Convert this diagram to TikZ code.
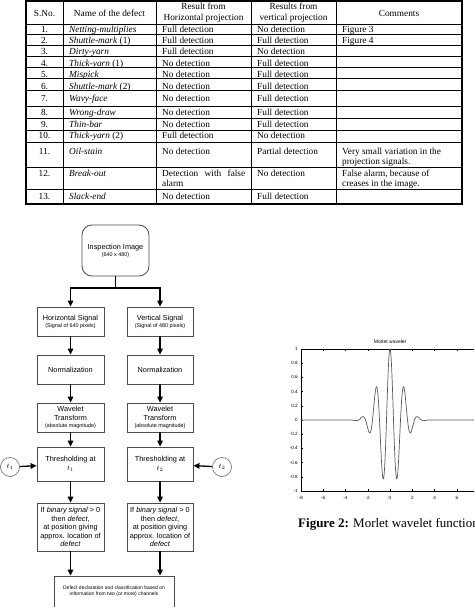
\documentclass[tikz,border=0pt]{standalone}
\usepackage{fontspec}
\setmainfont{Liberation Serif}
\newfontfamily\arialf{Liberation Sans}
\usetikzlibrary{arrows.meta}
\newcommand\smalltxt{\fontsize{5.4}{6.5}\selectfont}
\begin{document}
\begin{tikzpicture}[x=1pt,y=-1pt,
  tcell/.style={anchor=base west,inner sep=0pt,font=\fontsize{9.3}{10}\selectfont},
  tnum/.style={anchor=base,inner sep=0pt,font=\fontsize{9.3}{10}\selectfont},
  thead/.style={align=center,inner sep=0pt,font=\fontsize{9.3}{11}\selectfont},
  tline/.style={line width=0.7pt},
  touter/.style={line width=1.1pt},
  fbox/.style={draw=black!70,line width=0.8pt,fill=white,inner sep=0pt,align=center,font=\arialf\fontsize{7.3}{8.6}\selectfont},
  arr/.style={-{Triangle[length=6pt,width=5.5pt]},line width=1.3pt},
  link/.style={line width=1.3pt},
  tcirc/.style={circle,draw=black!60,line width=0.6pt,minimum size=19pt,inner sep=0pt,font=\fontsize{7.5}{8}\selectfont},
  ticklbl/.style={inner sep=0pt,font=\arialf\fontsize{4.6}{5}\selectfont}]
\useasboundingbox (0,0) rectangle (474,607);
\clip (0,0) rectangle (474,607);
\fill[white] (0,0) rectangle (474,607);

% ---------------- table ----------------
\foreach \yy in {24,34,45,56,67.3,78.7,90,118,130,142,167,189}
  \draw[tline] (26,\yy) -- (462,\yy);
\draw[line width=1.8pt] (26,106.5) -- (462,106.5);
\foreach \xx in {63,156,251,336}
  \draw[tline] (\xx,1) -- (\xx,204);
\draw[touter] (26,1) rectangle (462,204);

\node[thead] (hS) at (44.5,13) {S.No.};
\node[thead] (hN) at (109.5,13) {Name of the defect};
\node[thead] (hH) at (203.5,12.5) {Result from\\Horizontal projection};
\node[thead] (hV) at (293.5,12.5) {Results from\\vertical projection};
\node[thead] (hC) at (399,13) {Comments};

\foreach \i/\yb/\nm/\hr/\vr/\cm in {
  1/32.3/{\textit{Netting-multiplies}}/{Full detection}/{No detection}/{Figure 3},
  2/43.7/{\textit{Shuttle-mark} (1)}/{Full detection}/{Full detection}/{Figure 4},
  3/55/{\textit{Dirty-yarn}}/{Full detection}/{No detection}/{},
  4/66.3/{\textit{Thick-yarn} (1)}/{No detection}/{Full detection}/{},
  5/77.7/{\textit{Mispick}}/{No detection}/{Full detection}/{},
  6/89.5/{\textit{Shuttle-mark} (2)}/{No detection}/{Full detection}/{},
  7/101.2/{\textit{Wavy-face}}/{No detection}/{Full detection}/{},
  8/116/{\textit{Wrong-draw}}/{No detection}/{Full detection}/{},
  9/127.3/{\textit{Thin-bar}}/{No detection}/{Full detection}/{},
  10/139/{\textit{Thick-yarn} (2)}/{Full detection}/{No detection}/{},
  11/154/{\textit{Oil-stain}}/{No detection}/{Partial detection}/{\parbox[t]{118pt}{\raggedright Very small variation in the\\projection signals.}},
  12/176/{\textit{Break-out}}/{\parbox[t]{83pt}{Detection with false alarm}}/{No detection}/{\parbox[t]{118pt}{\raggedright False alarm, because of\\creases in the image.}},
  13/199/{\textit{Slack-end}}/{No detection}/{Full detection}/{}}
{
  \node[tnum] (no\i) at (44.5,\yb) {\i.};
  \node[tcell] (nm\i) at (69,\yb) {\nm};
  \node[tcell] (hr\i) at (162,\yb) {\hr};
  \node[tcell] (vr\i) at (257,\yb) {\vr};
  \node[tcell] (cm\i) at (342,\yb) {\cm};
}

% ---------------- flowchart ----------------
\node[fbox,rounded corners=10pt,minimum width=67pt,minimum height=51pt] (img) at (115.5,250.5)
  {Inspection Image\\[-1.5pt]{\smalltxt (640 x 480)}};
\node[fbox,minimum width=67pt,minimum height=29pt] (hs) at (70.5,321.5)
  {Horizontal Signal\\[-1.5pt]{\smalltxt (Signal of 640 pixels)}};
\node[fbox,minimum width=66pt,minimum height=29pt] (vs) at (160,321.5)
  {Vertical Signal\\[-1.5pt]{\smalltxt (Signal of 480 pixels)}};
\node[fbox,minimum width=67pt,minimum height=29pt] (n1) at (70.5,369.5) {Normalization};
\node[fbox,minimum width=66pt,minimum height=29pt] (n2) at (160,369.5) {Normalization};
\node[fbox,minimum width=67pt,minimum height=29pt] (w1) at (70.5,417.5)
  {Wavelet\\Transform\\[-1.5pt]{\smalltxt (absolute magnitude)}};
\node[fbox,minimum width=66pt,minimum height=29pt] (w2) at (160,417.5)
  {Wavelet\\Transform\\[-1.5pt]{\smalltxt (absolute magnitude)}};
\node[fbox,minimum width=67pt,minimum height=34pt] (th1) at (70.5,464)
  {Thresholding at\\$t_1$};
\node[fbox,minimum width=66pt,minimum height=34pt] (th2) at (160,464)
  {Thresholding at\\$t_2$};
\node[fbox,minimum width=67pt,minimum height=48pt] (d1) at (70.5,527)
  {If \textit{binary signal} > 0\\then \textit{defect},\\at position giving\\approx. location of\\\textit{defect}};
\node[fbox,minimum width=66pt,minimum height=48pt] (d2) at (160,527)
  {If \textit{binary signal} > 0\\then \textit{defect},\\at position giving\\approx. location of\\\textit{defect}};
\node[fbox,minimum width=120pt,minimum height=46pt] (fin) at (114,599) {};
\node[inner sep=0pt,align=center,font=\arialf\fontsize{5}{6.2}\selectfont] (fintxt) at (114,591)
  {Defect declaration and classification based on\\information from two (or more) channels};
\node[tcirc] (c1) at (10,467) {$t_1$};
\node[tcirc] (c2) at (222,467) {$t_2$};

\coordinate (j) at (115.5,288);
\draw[link] (img) -- (j);
\draw[arr] (j) -| (hs);
\draw[arr] (j) -| (vs);
\draw[arr] (hs) -- (n1);
\draw[arr] (vs) -- (n2);
\draw[arr] (n1) -- (w1);
\draw[arr] (n2) -- (w2);
\draw[arr] (w1) -- (th1);
\draw[arr] (w2) -- (th2);
\draw[arr] (th1) -- (d1);
\draw[arr] (th2) -- (d2);
\draw[arr] (c1) -- (th1);
\draw[arr] (c2) -- (th2);
\draw[arr] (d1) -- (d1 |- fin.north);
\draw[arr] (d2) -- (d2 |- fin.north);

% ---------------- plot ----------------
\node[ticklbl,font=\arialf\fontsize{5}{6}\selectfont] (ttl) at (390,342) {Morlet wavelet};
\draw[line width=0.5pt] (301,349) rectangle (479,491);
\foreach \k in {-8,-6,-4,-2,0,2,4,6,8}{
  \draw[line width=0.4pt] ({390+11.15*\k},349) -- ++(0,2);
  \draw[line width=0.4pt] ({390+11.15*\k},491) -- ++(0,-2);
}
\foreach \k in {-8,-6,-4,-2,0,2,4,6}{
  \node[ticklbl] (xl\k) at ({390+11.15*\k},497.5) {\k};
}
\foreach \v/\lab in {1/1,0.8/0.8,0.6/0.6,0.4/0.4,0.2/0.2,0/0,-0.2/-0.2,-0.4/-0.4,-0.6/-0.6,-0.8/-0.8,-1/-1}{
  \draw[line width=0.4pt] (301,{420-71*\v}) -- ++(2,0);
  \draw[line width=0.4pt] (479,{420-71*\v}) -- ++(-2,0);
  \node[ticklbl,anchor=east] (yl\lab) at (298,{420-71*\v}) {\lab};
}
\draw[black!65,line width=0.7pt] (301,420) -- ({390-4*11.15},420)
  plot[domain=-4:4,samples=401] ({390+11.15*\x},{420-71*exp(-0.5*(\x)*(\x))*cos(deg(5*\x))})
  -- (479,420);

\node[anchor=base west,inner sep=0pt,font=\fontsize{13}{15}\selectfont] (cap) at (298,527)
  {\textbf{Figure 2:} Morlet wavelet function};
\end{tikzpicture}
\end{document}
